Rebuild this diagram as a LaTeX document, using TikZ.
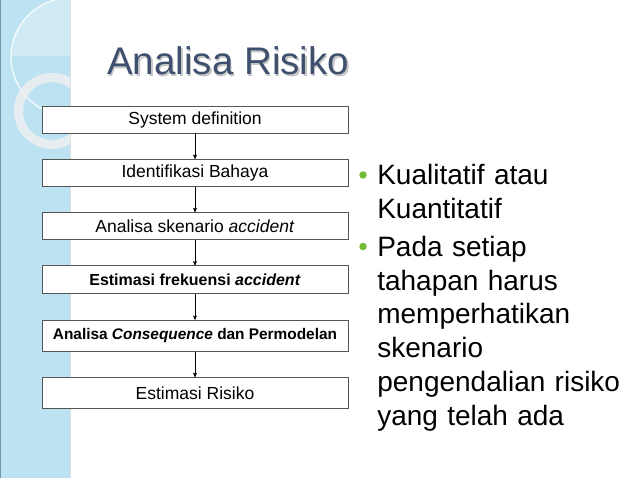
\documentclass[tikz,border=0pt]{standalone}
\usepackage{fontspec}
\setmainfont{Liberation Sans}
\usetikzlibrary{arrows,positioning}
\definecolor{bandblue}{RGB}{189,227,243}
\definecolor{bandedge}{RGB}{120,150,170}
\definecolor{titleblue}{RGB}{62,80,110}
\definecolor{bulletgreen}{RGB}{115,188,55}
\definecolor{boxline}{RGB}{85,85,85}

\begin{document}
\begin{tikzpicture}[->,>=stealth',x=1pt,y=-1pt,node distance=25.4pt,
                    semithick]
\tikzstyle{every node}=[font=\fontsize{17.5}{21}\selectfont,inner sep=0pt]
\tikzstyle{stage}=[draw=boxline,line width=0.9pt,fill=white,minimum width=306pt,minimum height=27pt]
  	\tikzstyle{boldstage}=[stage,font=\fontsize{15.4}{18}\selectfont\bfseries]
\tikzstyle{point}=[anchor=base west,text width=258pt,align=left,font=\fontsize{28}{33.75}\selectfont]
\tikzstyle{dot}=[circle,fill=bulletgreen,minimum size=7.5pt]
\useasboundingbox (0,0) rectangle (638,478);

% left band with its rings
\fill[bandblue,-] (0,0) rectangle (70,478);
\begin{scope}[-]
\clip (0,0) rectangle (70,478);
\begin{scope}
\clip (70,57) circle (59);
\fill[white,opacity=0.3] (0,0) rectangle (70,56);
\end{scope}
\draw[white,line width=1.2pt,opacity=0.9] (70,57) circle (59);
\draw[white!88!gray,line width=9pt,opacity=0.8] (52,111) circle (33.5);
\end{scope}
\draw[bandedge,-] (0.6,0) -- (0.6,478);
\draw[white!75!gray,-,thin] (70,0) -- (70,478);

\node [anchor=base west,text=gray!45,font=\fontsize{38.5}{44}\selectfont] (titleshadow) at (108.5,76.5) {Analisa Risiko};
\node [anchor=base west,text=titleblue,font=\fontsize{38.5}{44}\selectfont] (title) at (107,75) {Analisa Risiko};

\node [stage] (sysdef) at (195,119.5) {System definition};
\node [stage] [below=of sysdef] (ident) {Identifikasi Bahaya};
\node [stage] [below=of ident] (scen) {Analisa skenario \textit{accident}};
\node [boldstage,minimum height=28pt,font=\fontsize{16}{18}\selectfont\bfseries] [below=of scen] (freq) {Estimasi frekuensi \textit{accident}};
\node [boldstage,minimum height=31pt] [below=of freq] (cons) {Analisa \textit{Consequence} dan Permodelan};
\node [stage,minimum height=31pt] [below=of cons] (risk) {Estimasi Risiko};

\path (sysdef) edge (ident)
      (ident) edge (scen)
      (scen) edge (freq)
      (freq) edge (cons)
      (cons) edge (risk);

\node [point] (kual) at (377,185) {Kualitatif atau\\Kuantitatif};
\node [point] (pada) at (377,256.5) {Pada setiap\\tahapan harus\\memperhatikan\\skenario\\pengendalian risiko\\yang telah ada};
\node [dot] (dotkual) at ([shift={(-14pt,10pt)}]kual.base west) {};
\node [dot] (dotpada) at ([shift={(-14pt,10pt)}]pada.base west) {};

	\end{tikzpicture}
\end{document}
